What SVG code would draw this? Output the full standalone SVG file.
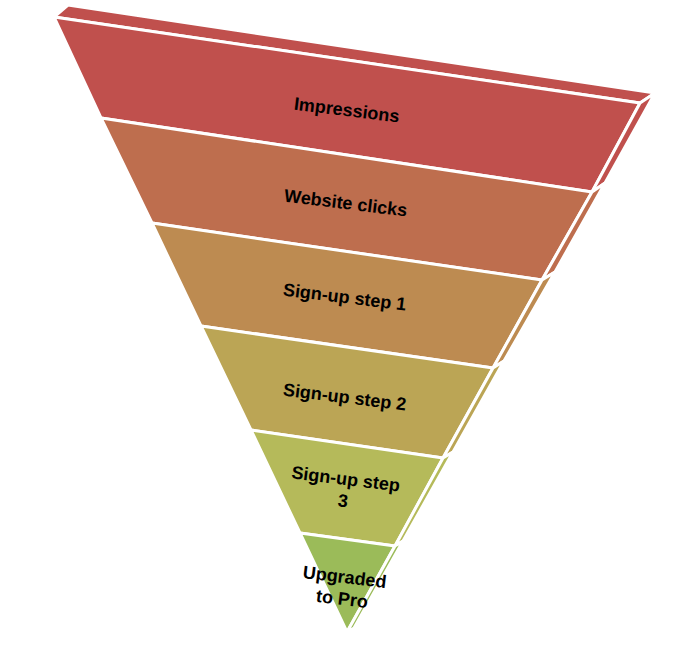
<svg xmlns="http://www.w3.org/2000/svg" width="691" height="667" viewBox="0 0 691 667">
<style>
.b{stroke:#fff;stroke-width:3;stroke-linejoin:round}
.t{font-family:"Liberation Sans",Arial,sans-serif;font-weight:bold;font-size:18px;fill:#000;text-anchor:middle}
</style>
<rect width="691" height="667" fill="#fff"/>
<g id="top"><polygon class="b" fill="#C0504D" points="54,17 68,5 655,93 640,103"/></g>
<g id="band1"><polygon class="b" fill="#C0504D" points="54,17 640,103 592,192 101,118"/><polygon class="b" fill="#C0504D" points="640,103 655,93 605,183 592,192"/>
<text class="t" transform="translate(346,116) rotate(7)">Impressions</text></g>
<g id="band2"><polygon class="b" fill="#BE6E4E" points="101,118 592,192 542,280 152,223"/><polygon class="b" fill="#BE6E4E" points="592,192 605,183 555,272 542,280"/>
<text class="t" transform="translate(345,209) rotate(7)">Website clicks</text></g>
<g id="band3"><polygon class="b" fill="#BD8B51" points="152,223 542,280 493,368 201,326"/><polygon class="b" fill="#BD8B51" points="542,280 555,272 504,361 493,368"/>
<text class="t" transform="translate(344,303) rotate(7)">Sign-up step 1</text></g>
<g id="band4"><polygon class="b" fill="#BBA555" points="201,326 493,368 443,458 251,430"/><polygon class="b" fill="#BBA555" points="493,368 504,361 453,452 443,458"/>
<text class="t" transform="translate(344,403) rotate(7)">Sign-up step 2</text></g>
<g id="band5"><polygon class="b" fill="#B5BA5A" points="251,430 443,458 395,546 300,533"/><polygon class="b" fill="#B5BA5A" points="443,458 453,452 403,541 395,546"/>
<text class="t" transform="translate(345,485) rotate(7)">Sign-up step<tspan x="0" dy="22">3</tspan></text></g>
<g id="band6"><polygon class="b" fill="#9BBB59" points="300,533 395,546 347,632"/><polygon class="b" fill="#9BBB59" points="395,546 403,541 354,628 347,632"/>
<text class="t" transform="translate(344,583) rotate(7)">Upgraded<tspan x="0" dy="22">to Pro</tspan></text></g>
<g id="connectors"/>
</svg>
